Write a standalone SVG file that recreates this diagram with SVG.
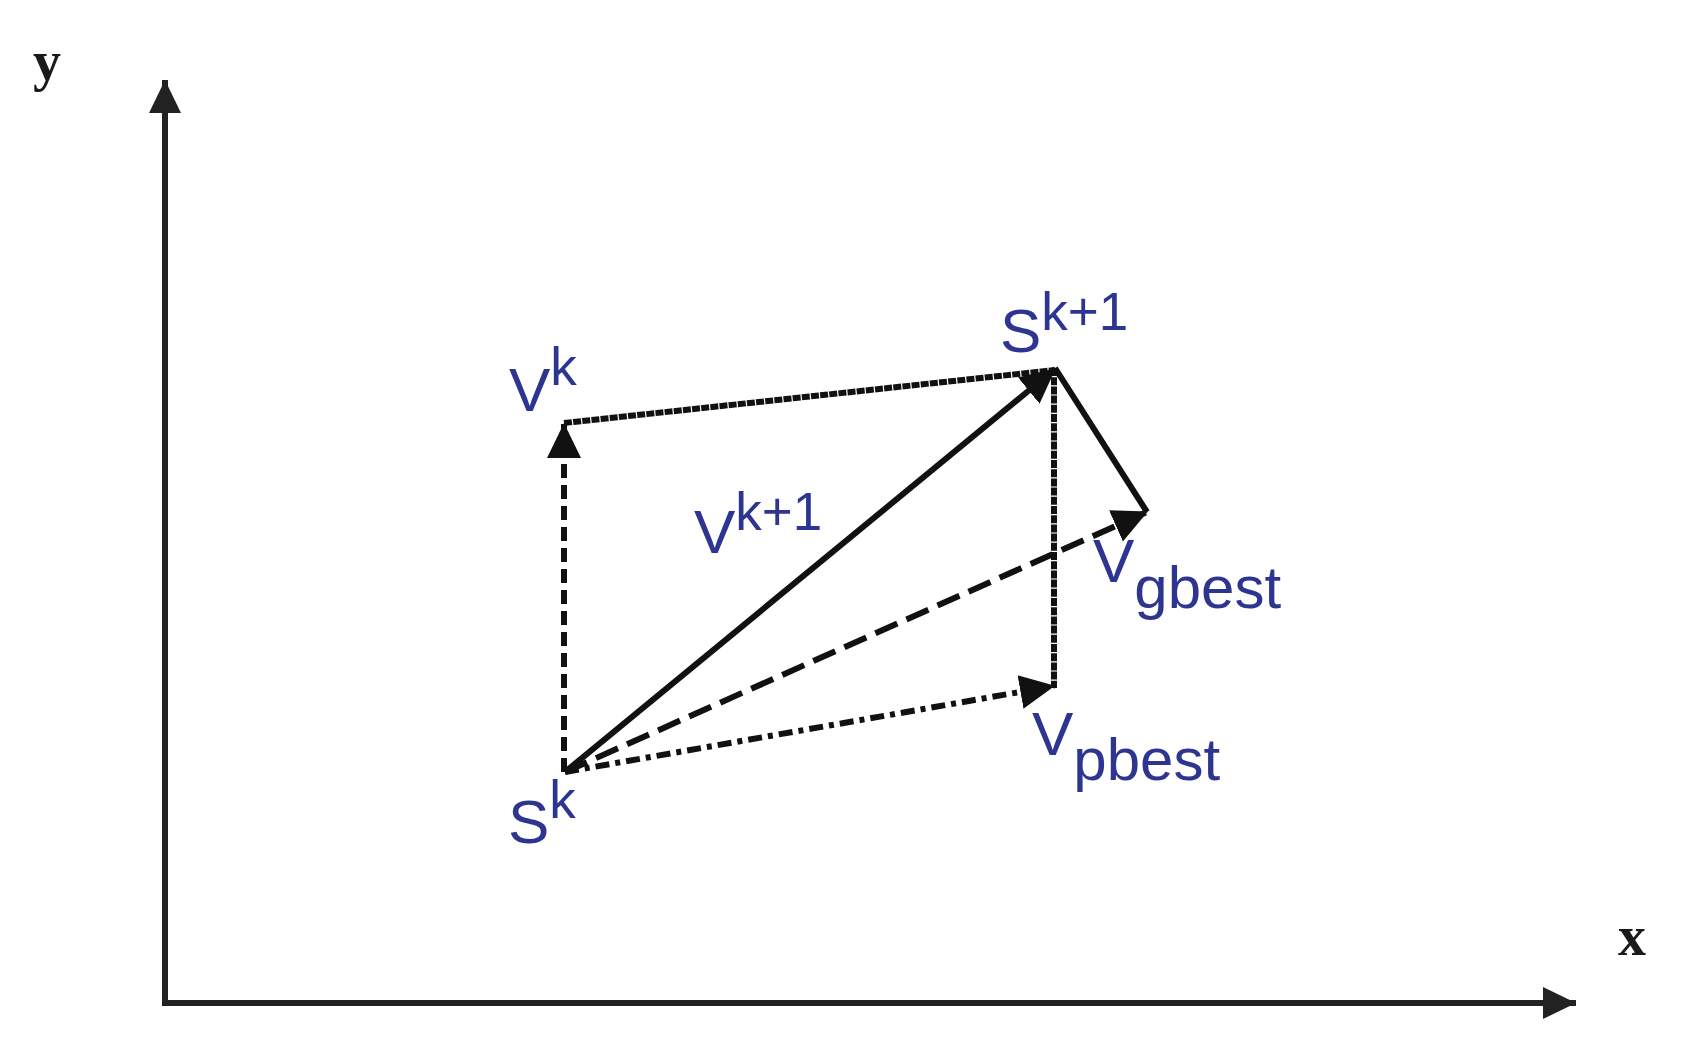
<svg xmlns="http://www.w3.org/2000/svg" width="1681" height="1063" viewBox="0 0 1681 1063">
<style>
.ax{stroke:#222;stroke-width:6;fill:none}
.ln{stroke:#111;stroke-width:6;fill:none}
.lbl{font-family:"Liberation Sans",Arial,sans-serif;fill:#2d3590}
.big{font-size:62px}
.sup{font-size:53px}
.sub{font-size:60px}
.axl{font-family:"Liberation Serif","Times New Roman",serif;font-weight:bold;font-size:56px;fill:#1a1a1a}
</style>
<defs>
<marker id="ah" markerUnits="userSpaceOnUse" markerWidth="36" markerHeight="36" refX="34" refY="17" orient="auto" viewBox="0 0 36 34">
<path d="M0,0 L35,17 L0,34 Z" fill="#111"/>
</marker>
<marker id="axh" markerUnits="userSpaceOnUse" markerWidth="34" markerHeight="34" refX="33" refY="16" orient="auto" viewBox="0 0 34 32">
<path d="M0,0 L33,16 L0,32 Z" fill="#222"/>
</marker>
</defs>
<rect width="1681" height="1063" fill="#fff"/>
<g id="axes">
<line class="ax" x1="165" y1="1003" x2="165" y2="80" marker-end="url(#axh)"/>
<line class="ax" x1="162" y1="1003" x2="1576" y2="1003" marker-end="url(#axh)"/>
<text class="axl" x="33" y="80">y</text>
<text class="axl" x="1618" y="955">x</text>
</g>
<g id="connectors">
<line class="ln" x1="564" y1="772" x2="564" y2="424" stroke-dasharray="14 7" marker-end="url(#ah)"/>
<line class="ln" x1="564" y1="423" x2="1055" y2="370" stroke-dasharray="8 1.2"/>
<line class="ln" x1="565" y1="772" x2="1055" y2="369" marker-end="url(#ah)"/>
<line class="ln" x1="1054" y1="368" x2="1054" y2="688" stroke-dasharray="8 1.2"/>
<line class="ln" x1="1055" y1="368" x2="1147" y2="512"/>
<line class="ln" x1="565" y1="772" x2="1147" y2="512" stroke-dasharray="24 10" marker-end="url(#ah)"/>
<line class="ln" x1="565" y1="772" x2="1054" y2="686" stroke-dasharray="14 6 5 6" marker-end="url(#ah)"/>
</g>
<g id="node-sk">
<text class="lbl" x="508" y="843"><tspan class="big">S</tspan><tspan class="sup" dy="-25">k</tspan></text>
</g>
<g id="node-vk">
<text class="lbl" x="509" y="411"><tspan class="big">V</tspan><tspan class="sup" dy="-26">k</tspan></text>
</g>
<g id="node-sk1">
<text class="lbl" x="1000" y="352"><tspan class="big">S</tspan><tspan class="sup" dy="-22">k+1</tspan></text>
</g>
<g id="node-vk1">
<text class="lbl" x="694" y="553"><tspan class="big">V</tspan><tspan class="sup" dy="-23">k+1</tspan></text>
</g>
<g id="node-vgbest">
<text class="lbl" x="1093" y="582"><tspan class="big">V</tspan><tspan class="sub" dy="26">gbest</tspan></text>
</g>
<g id="node-vpbest">
<text class="lbl" x="1032" y="755"><tspan class="big">V</tspan><tspan class="sub" dy="25">pbest</tspan></text>
</g>
</svg>
